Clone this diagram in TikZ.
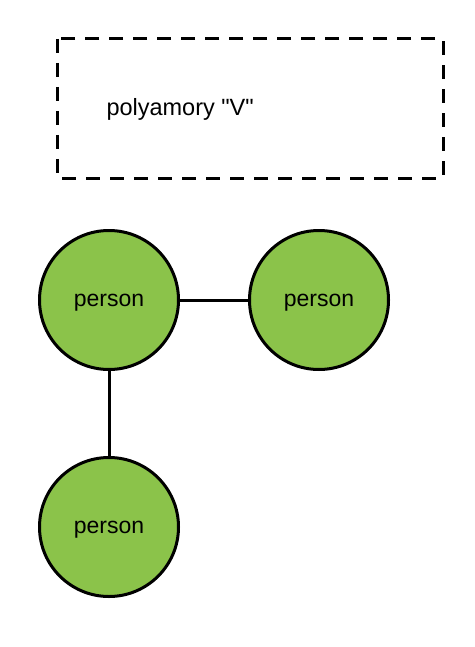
\documentclass[tikz,border=0pt]{standalone}
\usepackage{fontspec}
\setmainfont{Liberation Sans}
\newfontfamily\labelfont{Liberation Sans}
\definecolor{persongreen}{HTML}{8BC34A}
\begin{document}
\begin{tikzpicture}[x=1pt,y=-1pt,line width=3pt,
	person/.style={circle, draw, fill = persongreen, minimum size=139pt, inner sep=0pt, text height=12pt, text depth=0pt, font=\labelfont\fontsize{23}{27}\selectfont}]
	\useasboundingbox (0,0) rectangle (474,647);
	\draw[dash pattern=on 14pt off 10pt] (57,39) rectangle (443,178);
	\node (T) at (105,110)	[anchor=west, inner sep=0pt, text height=12pt, text depth=0pt, font=\labelfont\fontsize{23.5}{28}\selectfont]	{polyamory "V"};
	\node (P1) at (109,300)	[person]	{person};
	\node (P2) at (319,300)	[person]	{person};
	\node (P3) at (109,527)	[person]	{person};
	\draw (P1) -- (P2);
	\draw (P1) -- (P3);
\end{tikzpicture}
\end{document}
